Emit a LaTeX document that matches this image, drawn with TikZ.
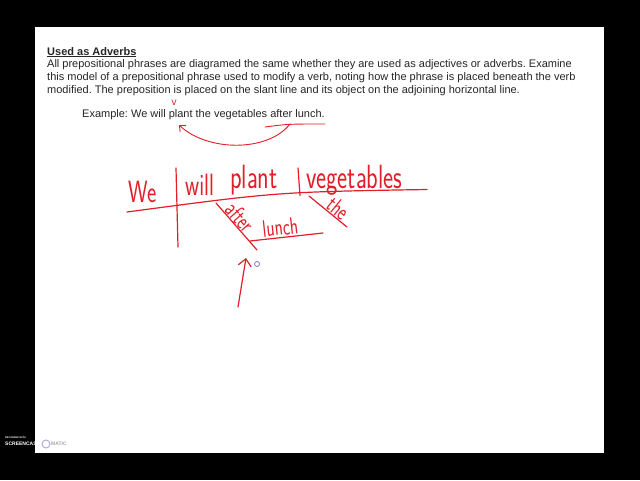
\documentclass[tikz,border=0pt]{standalone}
\usepackage{fontspec}
\setmainfont{Liberation Sans}
\usetikzlibrary{arrows.meta}
\definecolor{penred}{RGB}{226,30,40}
\definecolor{cursorblue}{RGB}{125,115,205}
\newcommand{\hw}[1]{\scalebox{1}[1.4]{#1}}
\frenchspacing
\tikzset{ %inner sep = 0pt,
  >={Straight Barb[length=7pt,width=13pt]},
  {pen/.style} ={draw=penred,line width=1.2pt,line cap=round},
  {thin pen/.style} ={pen,line width=.9pt},
  {word/.style} ={text=penred,inner sep=0,
                  font=\sffamily\fontsize{22}{22}\selectfont},
  {wide word/.style} ={word,font=\sffamily\fontsize{24}{24}\selectfont},
  {small word/.style} ={word,font=\sffamily\fontsize{17}{17}\selectfont},
  {typed/.style} ={anchor=base west,inner sep=0,text=black!85,
                   font=\fontsize{11}{14}\selectfont},
  {logo/.style} ={anchor=base west,inner sep=0,text=white,
                  font=\bfseries\fontsize{5}{5}\selectfont},
 }

\begin{document}
\begin{tikzpicture}[x=1pt,y=-1pt]
\useasboundingbox (0,0) rectangle (640,480);
\fill[black] (0,0) rectangle (640,480);
\fill[white] (35,27) rectangle (604,453);
% typed text
\node[typed] (title) at (47,55) {\textbf{\underline{Used as Adverbs}}};
\node[typed] (line1) at (47,67.7) {All prepositional phrases are diagramed the same whether they are used as adjectives or adverbs. Examine};
\node[typed] (line2) at (47,80.5) {this model of a prepositional phrase used to modify a verb, noting how the phrase is placed beneath the verb};
\node[typed] (line3) at (47,93.3) {modified. The preposition is placed on the slant line and its object on the adjoining horizontal line.};
\node[typed] (example) at (82,117.3) {Example: We will plant the vegetables after lunch.};
% marks on the example
\node[text=penred,inner sep=0,font=\fontsize{10}{10}\selectfont] (vmark) at (174,103) {v};
\coordinate (ul a) at (265,127);
\coordinate (ul b) at (325,124);
\coordinate (loop start) at (290,124);
\coordinate (loop tip) at (179,125);
\draw[thin pen] (ul a) .. controls (288,124) .. (ul b);
\draw[thin pen,-{Straight Barb[length=5pt,width=9pt]}] (loop start)
      .. controls (268,152) and (208,152) .. (loop tip);
% diagram
\coordinate (base w) at (127,212);
\coordinate (base e) at (427,189.5);
\coordinate (split n) at (176,168);
\coordinate (split s) at (178,247);
\coordinate (obj n) at (298,168);
\coordinate (obj s) at (300,195.5);
\coordinate (after n) at (216,203);
\coordinate (after s) at (257,250);
\coordinate (lunch w) at (250,241);
\coordinate (lunch e) at (323,233);
\coordinate (the n) at (309,196);
\coordinate (the s) at (347,227);
\draw[pen] (base w) .. controls (277,192) .. (base e);
\draw[pen] (split n) -- (split s);
\draw[pen] (obj n) -- (obj s);
\node[word,anchor=base west] (we) at (128,202) {\hw{We}};
\node[word,anchor=base west] (will) at (185,195) {\hw{will}};
\node[wide word,anchor=base west] (plant) at (230,188) {\hw{plant}};
\node[wide word,anchor=base west] (vegetables) at (306,188) {\hw{vegetables}};
\draw[pen] (after n) -- node[small word,sloped,above=0pt,pos=.42] (after) {\hw{after}} (after s);
\draw[pen] (lunch w) -- node[small word,sloped,above=1.5pt,pos=.43] (lunch) {\hw{lunch}} (lunch e);
\draw[pen] (the n) -- node[small word,sloped,above=0pt,pos=.62] (the) {\hw{the}} (the s);
\coordinate (arrow tail) at (238,307);
\coordinate (arrow tip) at (246,258);
\draw[pen,->] (arrow tail) -- (arrow tip);
\node[circle,draw=cursorblue,fill=white,line width=.8pt,
      inner sep=0,minimum size=5pt] (cursor) at (257,264) {};
% recorder mark
\node[logo,font=\bfseries\fontsize{2.4}{3}\selectfont] (recorded) at (5,438) {RECORDED WITH};
\node[logo] (screencast) at (5,445.5) {SCREENCAST};
\node[circle,draw=cursorblue!60!white,fill=white,line width=1pt,
      inner sep=0,minimum size=8pt] (logo mark) at (46,444) {};
\node[logo,text=gray!70] (matic) at (51,445.5) {MATIC};
\end{tikzpicture}
\end{document}
